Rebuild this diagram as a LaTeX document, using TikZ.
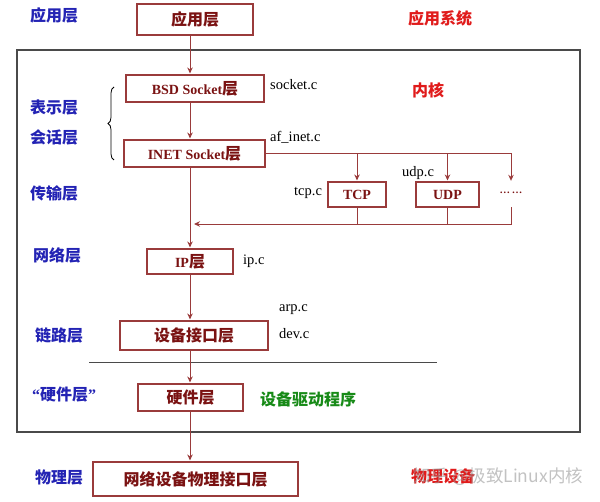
\documentclass[tikz,border=0pt]{standalone}
\usepackage{fontspec}
\setmainfont{Liberation Serif}
\newfontfamily\cjk{Noto Sans CJK SC}
\usetikzlibrary{arrows.meta,decorations.pathreplacing}
\definecolor{boxred}{HTML}{9A3B3B}
\definecolor{txtred}{HTML}{7A1212}
\definecolor{lblblue}{HTML}{2323B4}
\definecolor{hotred}{HTML}{E01B1B}
\definecolor{drvgreen}{HTML}{178A17}
\definecolor{framegray}{HTML}{4A4A4A}
\newcommand\zh[1]{{\cjk\fontsize{16}{19}\selectfont #1}}
\tikzset{
	layerbox/.style={draw=boxred, line width=1.1pt, text=txtred, font=\bfseries\fontsize{14}{17}\selectfont, inner sep=0pt},
	layerlbl/.style={anchor=west, text=lblblue, font=\cjk\bfseries\fontsize{16}{19}\selectfont, inner sep=0pt},
	srcfile/.style={anchor=west, font=\fontsize{14.5}{17}\selectfont, inner sep=0pt},
	flow/.style={draw=boxred, line width=0.9pt, shorten >=1pt, -{Stealth[length=6pt,width=5.5pt]}},
	flowline/.style={draw=boxred, line width=0.9pt},
}

\begin{document}
\begin{tikzpicture}[x=1pt,y=-1pt]
			\useasboundingbox (0,0) rectangle (600,502);
			%%%%% START %%%%%
			
			\draw[framegray, line width=1.2pt] (17,50) rectangle (580,432);
			\draw[framegray, line width=1pt] (89,363) -- (437,363);
			
			\node[layerbox, minimum width=116pt, minimum height=31pt] (app) at (195,19.5) {\zh{应用层}};
			\node[layerbox, minimum width=138pt, minimum height=27pt] (bsd) at (195,88.5) {BSD Socket\zh{层}};
			\node[layerbox, minimum width=141pt, minimum height=27pt] (inet) at (194.5,153.5) {INET Socket\zh{层}};
			\node[layerbox, minimum width=58pt, minimum height=25pt] (tcp) at (357,194.5) {TCP};
			\node[layerbox, minimum width=63pt, minimum height=25pt] (udp) at (447.5,194.5) {UDP};
			\node[inner sep=0pt, minimum height=25pt, text=txtred, font=\bfseries\fontsize{10.5}{13}\selectfont] (more) at (511,194.5) {\raisebox{3pt}{…\,…}};
			\node[layerbox, minimum width=86pt, minimum height=25pt] (ip) at (190,261.5) {IP\zh{层}};
			\node[layerbox, minimum width=148pt, minimum height=29pt] (dev) at (194,335.5) {\zh{设备接口层}};
			\node[layerbox, minimum width=105pt, minimum height=27pt] (hw) at (190.5,397.5) {\zh{硬件层}};
			\node[layerbox, minimum width=205pt, minimum height=34pt] (phy) at (195.5,479) {\zh{网络设备物理接口层}};
			
			% left column
			\node[layerlbl] (lapp) at (30,15) {应用层};
			\node[layerlbl] (lpres) at (30,108) {表示层};
			\node[layerlbl] (lsess) at (30,137) {会话层};
			\node[layerlbl] (ltrans) at (30,193) {传输层};
			\node[layerlbl] (lnet) at (33,255) {网络层};
			\node[layerlbl] (llink) at (35,335) {链路层};
			\node[layerlbl] (lhw) at (32,395) {{\rmfamily “}硬件层{\rmfamily ”}};
			\node[layerlbl] (lphy) at (35,478) {物理层};
			\draw[black, line width=0.8pt, decorate, decoration={brace, amplitude=6pt}] (114,160) -- (114,87);
			
			% source files
			\node[srcfile] (fsock) at (270,85) {socket.c};
			\node[srcfile] (finet) at (270,137) {af\_inet.c};
			\node[srcfile] (ftcp) at (294,193) {tcp.c};
			\node[srcfile] (fudp) at (402,173) {udp.c};
			\node[srcfile] (fip) at (243,261) {ip.c};
			\node[srcfile] (farp) at (279,310) {arp.c};
			\node[srcfile] (fdev) at (279,334) {dev.c};
			
			\node[layerlbl, text=hotred] (rapp) at (408,18) {应用系统};
			\node[layerlbl, text=hotred] (rkern) at (412,90) {内核};
			\node[layerlbl, text=drvgreen] (rdrv) at (260,399) {设备驱动程序};
			\node[layerlbl, text=hotred] (rphy) at (411,476) {物理设备};
			\node[anchor=west, inner sep=0pt, text=black!40, opacity=0.6, font=\cjk\fontsize{17.5}{20}\selectfont] (mark) at (413,477) {知乎 @极致Linux内核};
			
			% main column
			\draw[flow] (app.south -| ip) -- (bsd.north -| ip);
			\draw[flow] (bsd.south -| ip) -- (inet.north -| ip);
			\draw[flow] (inet.south -| ip) -- (ip.north);
			\draw[flow] (ip.south) -- (dev.north -| ip);
			\draw[flow] (dev.south -| ip) -- (hw.north -| ip);
			\draw[flow] (hw.south -| ip) -- (phy.north -| ip);
			
			% transport branch
			\draw[flowline] (inet.east) -- (inet.east -| more);
			\draw[flow] (inet.east -| tcp) -- (tcp.north);
			\draw[flow] (inet.east -| udp) -- (udp.north);
			\draw[flow] (inet.east -| more) -- (more.north);
			\coordinate (back) at (193,224);
			\draw[flowline] (tcp.south) -- (tcp.south |- back);
			\draw[flowline] (udp.south) -- (udp.south |- back);
			\draw[flow] (more.south) -- (more.south |- back) -- (back);
			
			%%%%% END %%%%%
\end{tikzpicture}
\end{document}
